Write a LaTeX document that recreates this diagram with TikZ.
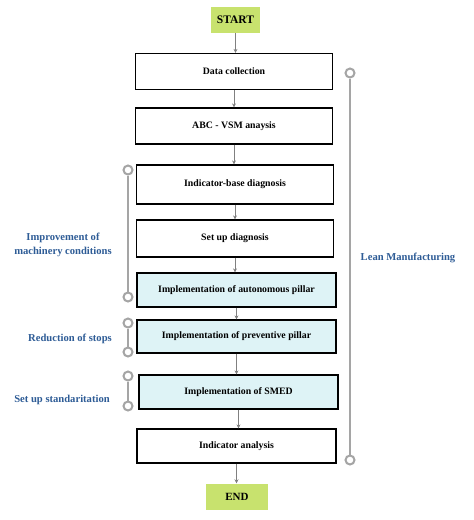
\documentclass[tikz,border=0pt]{standalone}
\usepackage{fontspec}
\setmainfont{Liberation Serif}
\usetikzlibrary{arrows.meta}
\definecolor{startgreen}{RGB}{200,226,110}
\definecolor{paleblue}{RGB}{222,243,246}
\definecolor{labelblue}{RGB}{46,92,150}
\definecolor{bargray}{RGB}{165,165,165}
\begin{document}
\begin{tikzpicture}[x=1pt,y=-1pt,
  stepbox/.style={draw=black,line width=1.2pt,minimum width=197pt,minimum height=36pt,inner sep=0pt,font=\bfseries\fontsize{9.8}{11}\selectfont},
  pillarbox/.style={stepbox,fill=paleblue},
  termbox/.style={fill=startgreen,minimum height=26pt,inner sep=0pt,font=\bfseries\fontsize{11.5}{12}\selectfont},
  flow/.style={draw=gray,line width=0.8pt,-{Stealth[length=4pt,width=4pt]}},
  bar/.style={draw=bargray,line width=2.6pt},
  ring/.style={circle,draw=bargray,line width=2pt,fill=white,minimum size=9pt,inner sep=0pt},
  sidelabel/.style={text=labelblue,font=\bfseries\fontsize{10.6}{14}\selectfont,align=center}]
\useasboundingbox (0,0) rectangle (474,520);
\node[termbox,minimum width=49pt] (start) at (235.5,20) {START};
\node[stepbox] (s1) at (234,71.5) {Data collection};
\node[stepbox] (s2) at (234,126) {ABC - VSM anaysis};
\node[stepbox,minimum height=39pt] (s3) at (235,184.5) {Indicator-base diagnosis};
\node[stepbox,minimum height=37pt] (s4) at (235,238.5) {Set up diagnosis};
\node[pillarbox,minimum height=34pt,minimum width=199pt] (s5) at (236.5,290) {Implementation of autonomous pillar};
\node[pillarbox,minimum height=33pt,minimum width=199pt] (s6) at (236.5,336.5) {Implementation of preventive pillar};
\node[pillarbox,minimum height=34pt,minimum width=199pt] (s7) at (238.5,392) {Implementation of SMED};
\node[stepbox,minimum height=34pt,minimum width=199pt] (s8) at (236.5,446) {Indicator analysis};
\node[termbox,minimum width=62pt,font=\bfseries\fontsize{11}{12}\selectfont] (end) at (237,496.5) {END};
\draw[flow] (start) -- (start |- s1.north);
\draw[flow] (s1) -- (s1 |- s2.north);
\draw[flow] (s2) -- (s2 |- s3.north);
\draw[flow] (s3) -- (s3 |- s4.north);
\draw[flow] (s4) -- (s4 |- s5.north);
\draw[flow] (s5) -- (s5 |- s6.north);
\draw[flow] (s6) -- (s6 |- s7.north);
\draw[flow] (s7) -- (s7 |- s8.north);
\draw[flow] (s8) -- (s8 |- end.north);
% Lean bar
\node[ring] (la) at (350,73) {};
\node[ring] (lb) at (350,460) {};
\draw[bar] (la) -- (lb);
\node[sidelabel] (ll) at (408,258) {Lean Manufacturing};
% left brackets
\node[ring] (ia) at (128,170) {};
\node[ring] (ib) at (128,297) {};
\draw[bar] (ia) -- (ib);
\node[sidelabel] (il) at (63,245) {Improvement of\\machinery conditions};
\node[ring] (ra) at (128,323) {};
\node[ring] (rb) at (128,352) {};
\draw[bar] (ra) -- (rb);
\node[sidelabel] (rl) at (70,339) {Reduction of stops};
\node[ring] (ua) at (128,376) {};
\node[ring] (ub) at (128,406) {};
\draw[bar] (ua) -- (ub);
\node[sidelabel] (ul) at (62,400) {Set up standaritation};
\end{tikzpicture}
\end{document}
